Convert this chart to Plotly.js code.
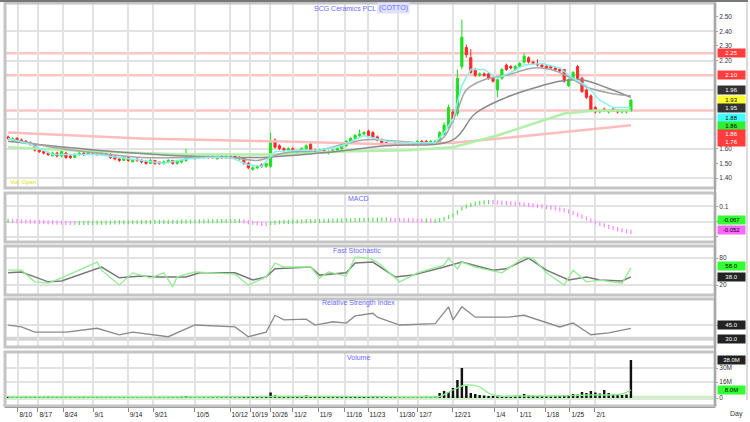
<!DOCTYPE html>
<html><head><meta charset="utf-8">
<script src="https://cdn.plot.ly/plotly-3.0.1.min.js"></script>
<style>html,body{margin:0;padding:0;background:#fff}#chart{width:750px;height:422px}</style>
</head><body><div id="chart"></div>
<script>
// ---------- price data (daily, index 0..140) ----------
const openP = [1.68,1.66,1.67,1.66,1.65,1.64,1.63,1.59,1.58,1.57,
1.55,1.57,1.55,1.57,1.55,1.54,1.56,1.57,1.56,1.58,
1.57,1.56,1.58,1.56,1.55,1.53,1.52,1.54,1.51,1.53,
1.52,1.51,1.50,1.52,1.51,1.50,1.51,1.52,1.50,1.51,
1.52,1.55,1.53,1.55,1.54,1.55,1.55,1.53,1.55,1.54,
1.55,1.55,1.53,1.54,1.50,1.46,1.47,1.49,1.48,1.48,
1.66,1.62,1.60,1.59,1.60,1.57,1.58,1.60,1.63,1.59,
1.58,1.59,1.57,1.58,1.59,1.60,1.62,1.65,1.67,1.69,
1.70,1.72,1.71,1.68,1.66,1.64,1.62,1.63,1.64,1.63,
1.64,1.63,1.64,1.65,1.65,1.64,1.64,1.65,1.70,1.75,
1.85,1.84,2.16,2.29,2.22,2.14,2.10,2.11,2.11,2.08,
2.00,2.08,2.17,2.16,2.14,2.16,2.19,2.22,2.19,2.18,
2.17,2.16,2.16,2.15,2.14,2.14,2.03,2.08,2.16,2.08,
2.00,1.96,1.88,1.85,1.87,1.85,1.87,1.86,1.85,1.85,1.86];
const closeP = [1.67,1.67,1.66,1.65,1.64,1.63,1.59,1.58,1.57,1.56,
1.57,1.55,1.58,1.54,1.54,1.56,1.57,1.56,1.58,1.57,
1.56,1.58,1.57,1.54,1.53,1.52,1.54,1.52,1.52,1.52,
1.51,1.50,1.52,1.50,1.50,1.51,1.52,1.50,1.52,1.52,
1.54,1.54,1.54,1.54,1.55,1.54,1.54,1.54,1.54,1.55,
1.54,1.54,1.54,1.50,1.47,1.47,1.48,1.48,1.50,1.64,
1.61,1.60,1.59,1.60,1.58,1.58,1.60,1.62,1.59,1.58,
1.59,1.58,1.58,1.59,1.60,1.63,1.65,1.67,1.69,1.70,
1.71,1.69,1.68,1.66,1.64,1.63,1.63,1.64,1.63,1.64,
1.63,1.64,1.65,1.64,1.64,1.65,1.65,1.71,1.76,1.88,
1.80,2.08,2.36,2.24,2.12,2.10,2.11,2.10,2.08,2.06,
2.07,2.14,2.14,2.15,2.16,2.18,2.23,2.19,2.18,2.17,
2.16,2.15,2.15,2.14,2.13,2.06,2.07,2.12,2.08,1.99,
1.95,1.86,1.85,1.86,1.86,1.86,1.86,1.85,1.86,1.86,1.93];
const highP = [1.69,1.68,1.68,1.67,1.66,1.65,1.63,1.60,1.59,1.58,
1.58,1.58,1.58,1.58,1.56,1.57,1.58,1.58,1.59,1.58,
1.58,1.59,1.58,1.57,1.55,1.54,1.55,1.54,1.53,1.53,
1.53,1.52,1.53,1.52,1.51,1.52,1.53,1.52,1.52,1.53,
1.60,1.56,1.55,1.55,1.56,1.56,1.55,1.55,1.56,1.56,
1.55,1.55,1.55,1.54,1.51,1.48,1.49,1.50,1.50,1.71,
1.67,1.63,1.61,1.61,1.61,1.59,1.61,1.63,1.64,1.60,
1.60,1.60,1.59,1.60,1.61,1.64,1.66,1.68,1.70,1.73,
1.72,1.73,1.72,1.69,1.67,1.65,1.64,1.65,1.65,1.65,
1.65,1.65,1.66,1.66,1.66,1.66,1.66,1.72,1.78,1.90,
1.87,2.14,2.48,2.31,2.28,2.15,2.12,2.12,2.12,2.09,
2.08,2.15,2.18,2.17,2.17,2.19,2.25,2.23,2.20,2.21,
2.18,2.17,2.17,2.16,2.15,2.14,2.08,2.13,2.17,2.09,
2.01,1.97,1.89,1.87,1.88,1.87,1.88,1.87,1.87,1.87,1.94];
const lowP = [1.66,1.65,1.65,1.64,1.63,1.62,1.58,1.57,1.56,1.55,
1.55,1.54,1.54,1.53,1.53,1.54,1.55,1.55,1.56,1.56,
1.55,1.56,1.56,1.53,1.52,1.51,1.52,1.51,1.51,1.51,
1.50,1.49,1.50,1.49,1.49,1.49,1.50,1.49,1.49,1.50,
1.51,1.53,1.53,1.53,1.53,1.53,1.53,1.53,1.53,1.53,
1.53,1.53,1.52,1.49,1.46,1.45,1.46,1.47,1.47,1.47,
1.60,1.59,1.58,1.58,1.57,1.56,1.57,1.59,1.58,1.57,
1.57,1.57,1.56,1.57,1.58,1.59,1.61,1.64,1.66,1.68,
1.69,1.68,1.67,1.65,1.63,1.62,1.62,1.62,1.62,1.62,
1.62,1.62,1.63,1.63,1.63,1.63,1.63,1.64,1.69,1.74,
1.78,1.82,2.14,2.22,2.11,2.09,2.09,2.09,2.07,2.05,
1.95,2.07,2.13,2.14,2.13,2.15,2.18,2.18,2.17,2.16,
2.15,2.14,2.14,2.13,2.12,2.05,2.02,2.07,2.07,1.98,
1.94,1.85,1.84,1.84,1.85,1.84,1.85,1.84,1.84,1.84,1.85];

// moving-average lines (day index, value)
const ma20X = [0,10,20,30,40,50,56,62,70,80,88,96,98,101,103,107,112,118,122,126,130,135,140];
const ma20  = [1.67,1.61,1.57,1.54,1.54,1.54,1.52,1.57,1.59,1.66,1.65,1.64,1.68,1.86,2.00,2.07,2.10,2.15,2.14,2.09,2.02,1.98,1.96];
const ma50X = [0,20,40,56,70,85,100,105,112,120,124,129,135,140];
const ma50  = [1.65,1.59,1.55,1.54,1.57,1.62,1.66,1.84,1.95,2.03,2.06,2.07,2.01,1.95];
const ma5X  = [0,5,10,15,20,25,30,35,40,45,50,54,57,60,65,70,75,80,85,90,96,98,100,102,104,107,110,113,116,120,124,127,130,133,136,140];
const ma5   = [1.67,1.63,1.56,1.56,1.56,1.54,1.52,1.50,1.53,1.54,1.54,1.49,1.48,1.58,1.59,1.59,1.62,1.69,1.65,1.64,1.64,1.71,1.80,2.03,2.14,2.14,2.08,2.12,2.17,2.18,2.15,2.08,2.03,1.93,1.88,1.88];
const ma100X = [0,20,40,60,75,90,100,110,118,125,132,140];
const ma100  = [1.61,1.58,1.56,1.56,1.58,1.59,1.61,1.69,1.77,1.84,1.86,1.86];
const ma200X = [0,30,60,85,100,114,140];
const ma200  = [1.71,1.67,1.65,1.63,1.64,1.68,1.76];
const levels = [2.25, 2.10, 1.86];

// MACD (daily)
const macd = [0.005,0.004,0.003,0.002,0.001,0,-0.001,-0.002,-0.003,-0.004,-0.005,-0.006,-0.007,-0.008,-0.009,-0.010,
-0.009,-0.009,-0.008,-0.008,-0.007,-0.007,-0.006,-0.006,-0.005,-0.005,-0.005,-0.004,-0.004,-0.004,-0.003,-0.003,-0.003,-0.002,-0.002,-0.002,-0.001,-0.001,-0.001,0,0,
0.001,0.001,0.002,0.002,0.002,0.003,0.003,0.003,0.004,0.004,0.004,0.005,
0.002,-0.003,-0.008,-0.012,-0.015,-0.017,
-0.010,-0.006,-0.004,-0.002,-0.001,0,0.001,0.002,0.003,0.003,0.004,0.004,0.005,0.005,0.006,0.006,0.007,0.008,0.009,0.010,0.011,0.012,0.012,0.013,0.013,0.014,0.014,
0.013,0.012,0.011,0.010,0.009,0.008,0.007,0.006,0.006,0.005,0.005,
0.010,0.018,0.030,0.040,0.060,0.085,0.100,0.110,0.118,0.123,0.126,0.128,
0.127,0.125,0.123,0.121,0.119,0.117,0.115,0.112,0.109,0.106,0.103,0.099,0.095,0.091,0.086,0.080,0.073,0.065,0.055,0.045,0.033,0.020,0.008,-0.004,-0.015,-0.025,-0.034,-0.042,-0.050,-0.057,-0.063,-0.067];

// Fast stochastic
const stochKX = [0,3,6,9,12,16,20,21,25,28,32,35,37,38,42,46,51,54,58,60,62,68,70,72,76,78,81,83,88,92,98,99,101,102,105,111,116,118,121,125,127,130,133,138,140];
const stochK  = [53,53,27,24,36,53,71,53,20,47,36,47,16,38,49,47,44,20,38,69,60,60,36,49,40,82,80,71,27,47,64,80,56,71,60,47,82,80,47,20,53,27,31,24,58];
const stochDX = [0,3,6,9,12,16,21,25,30,34,40,43,51,55,58,60,68,70,76,78,82,87,91,98,102,109,112,117,121,126,130,133,138,140];
const stochD  = [47,49,38,27,29,42,60,36,40,38,38,47,47,31,38,56,60,42,47,69,71,38,42,60,71,53,56,80,53,31,38,31,29,38];

// RSI
const rsiX = [0,3,6,13,20,25,28,36,42,51,54,58,60,62,67,69,73,76,78,82,83,88,96,99,100,102,105,112,116,124,127,131,135,140];
const rsi  = [50,47,39,39,45,35,39,32,50,47,32,39,65,58,59,50,55,53,64,68,62,50,52,78,58,78,62,62,65,47,53,35,38,45];

// Volume (millions of shares)
const volume = [1.2,0.8,1.0,0.9,1.1,0.8,1.3,1.0,0.9,1.1,
0.8,0.9,1.0,0.7,0.8,0.9,0.8,1.0,0.7,0.8,
0.9,0.7,0.8,0.9,0.8,0.7,0.9,0.8,0.7,0.8,
0.7,0.8,0.9,0.7,0.8,0.7,0.8,0.9,0.8,1.2,
2.0,1.0,0.8,0.7,0.8,0.7,0.8,0.7,0.8,0.7,
0.8,0.7,0.8,1.2,1.5,1.0,0.9,0.8,1.0,5.5,
2.5,1.8,1.5,1.2,1.5,1.8,1.3,2.5,1.8,1.2,
1.0,1.1,1.0,1.2,1.0,1.5,1.8,2.0,1.6,1.4,
1.5,1.3,1.6,1.4,1.2,1.1,1.0,1.0,0.9,1.0,
0.9,1.0,0.9,1.0,1.1,1.0,1.2,5.0,7.0,6.0,
10.0,18.0,30.0,12.0,5.0,4.0,3.0,2.5,2.0,2.0,
2.5,2.0,1.8,2.0,2.2,2.5,4.0,2.5,2.2,2.0,
1.8,2.0,1.8,2.0,2.2,2.5,3.0,4.0,3.5,6.0,
5.0,7.0,5.5,4.5,8.0,5.0,4.0,3.5,3.0,3.5,38.0];
const volMAX = [0,20,40,60,80,95,97,100,103,106,108,110,115,125,130,138,140];
const volMA  = [1,1,1,1.5,1.3,1,1.5,8,13,11,5,2,2,2.2,3,4,8];

// x-axis ticks (day index) and labels
const tickPos  = [2.2,6.7,12.4,19.1,27,32.6,42,49.9,54.4,58.9,64,69.7,75.7,80.9,87.6,92.1,100,109.4,114.6,120.7,126.3,131.9];
const tickText = ['8/10','8/17','8/24','9/1','9/14','9/21','10/5','10/12','10/19','10/26','11/2','11/9','11/16','11/23','11/30','12/7','12/21','1/4','1/11','1/18','1/25','2/1'];
const priceTicks = [2.5, 2.4, 2.3, 2.2, 1.6, 1.5, 1.4];

// ---------- build ----------
const idx = closeP.map((_, i) => i);
const UP = '#1fe01f', DOWN = '#ff2a2a';
const macdCol = macd.map((v, i) => (i === 0 || v >= macd[i-1]) ? '#5ee05e' : '#ff88ff');
const last = a => a[a.length-1];

const traces = [
  {type:'scatter', mode:'lines', x:ma200X, y:ma200, line:{color:'#ffbcbc', width:2.5}, yaxis:'y', hoverinfo:'skip'},
  {type:'scatter', mode:'lines', x:ma100X, y:ma100, line:{color:'#b0f0a8', width:2.5}, yaxis:'y', hoverinfo:'skip'},
  {type:'scatter', mode:'lines', x:ma50X, y:ma50, line:{color:'#8a8a8a', width:1.5, shape:'spline'}, yaxis:'y', hoverinfo:'skip'},
  {type:'scatter', mode:'lines', x:ma20X, y:ma20, line:{color:'#a6a6a6', width:1.5, shape:'spline'}, yaxis:'y', hoverinfo:'skip'},
  {type:'scatter', mode:'lines', x:ma5X, y:ma5, line:{color:'#88f0f0', width:1.5}, yaxis:'y', hoverinfo:'skip'},
  {type:'candlestick', x:idx, open:openP, high:highP, low:lowP, close:closeP, xaxis:'x', yaxis:'y',
   increasing:{line:{color:UP, width:1}, fillcolor:UP},
   decreasing:{line:{color:DOWN, width:1}, fillcolor:DOWN},
   whiskerwidth:0, hoverinfo:'skip'},
  {type:'scatter', mode:'markers', x:[0], y:[2.0], yaxis:'y6', marker:{opacity:0}, hoverinfo:'skip'},
  {type:'scatter', mode:'markers', x:idx, y:macd, yaxis:'y2',
   marker:{symbol:'line-ns', size:3, line:{width:1.2, color:macdCol}}, hoverinfo:'skip'},
  {type:'scatter', mode:'lines', x:stochDX, y:stochD, yaxis:'y3', line:{color:'#777', width:1.5}, hoverinfo:'skip'},
  {type:'scatter', mode:'lines', x:stochKX, y:stochK, yaxis:'y3', line:{color:'#90ee90', width:1.3}, hoverinfo:'skip'},
  {type:'scatter', mode:'lines', x:rsiX, y:rsi, yaxis:'y4', line:{color:'#8a8a8a', width:1.3}, hoverinfo:'skip'},
  {type:'bar', x:idx, y:volume, yaxis:'y5', marker:{color:'#111'}, width:0.55, hoverinfo:'skip'},
  {type:'scatter', mode:'lines', x:volMAX, y:volMA, yaxis:'y5', line:{color:'#88ee88', width:1.3, shape:'spline'}, hoverinfo:'skip'}
];
traces.forEach(t => { t.showlegend = false; if (!t.xaxis) t.xaxis = 'x'; });

const H = 403;
const py = p => (406 - p) / H;          // pixel row -> paper y
const px = p => (p - 5) / 710;          // pixel col -> paper x
const grid = '#e2e2e2';
const FF = 'Liberation Sans, Arial, sans-serif';
const tf = {size:6.5, color:'#333', family:FF};
const yBase = {side:'right', anchor:'x', showgrid:true, gridcolor:grid, gridwidth:2, zeroline:false,
  ticks:'outside', ticklen:2, tickcolor:'#999', tickfont:tf, fixedrange:true};

const layout = {
  width:750, height:422, margin:{l:5, r:35, t:3, b:16},
  paper_bgcolor:'#fff', plot_bgcolor:'#fff', showlegend:false,
  font:{family:FF},
  xaxis:{domain:[0,1], range:[-0.7,158.9], anchor:'y5', tickmode:'array', tickvals:tickPos, ticktext:tickText,
    tickangle:0, showgrid:true, gridcolor:grid, gridwidth:2, zeroline:false, ticks:'outside', ticklen:4, tickcolor:'#888',
    tickfont:{size:6.5, color:'#222', family:FF}, ticklabelposition:'outside right', ticklabelstandoff:1,
    showline:true, linecolor:'#777', linewidth:2, rangeslider:{visible:false}, fixedrange:true},
  yaxis: Object.assign({}, yBase, {domain:[py(188),1], range:[1.332,2.593], tick0:0, dtick:0.2, showticklabels:false, ticks:''}),
  yaxis6: Object.assign({}, yBase, {overlaying:'y', range:[1.332,2.593], tickvals:priceTicks, tickformat:'.2f', showgrid:false}),
  yaxis2: Object.assign({}, yBase, {domain:[py(242),py(193)], range:[-0.133,0.187], tickvals:[-0.1,0,0.1], ticktext:['','','0.1']}),
  yaxis3: Object.assign({}, yBase, {domain:[py(295),py(246)], range:[-2.2,106.7], tickvals:[20,80]}),
  yaxis4: Object.assign({}, yBase, {domain:[py(347),py(299)], range:[16.2,90], tickvals:[50], ticktext:['']}),
  yaxis5: Object.assign({}, yBase, {domain:[0,py(352)], range:[-8,46], tickvals:[0,16,30], ticktext:['0','16M','30M']}),
  shapes:[], annotations:[]
};

// support / resistance levels
levels.forEach(v => layout.shapes.push({type:'line', xref:'paper', yref:'y', x0:0, x1:1, y0:v, y1:v,
  line:{color:'rgba(255,150,150,0.55)', width:2.5}, layer:'between'}));
// bands
layout.shapes.push({type:'rect', xref:'paper', yref:'y4', x0:0, x1:1, y0:26, y1:32, fillcolor:'#d4d4d4', line:{width:0}, layer:'between'});
layout.shapes.push({type:'rect', xref:'paper', yref:'y5', x0:0, x1:1, y0:-2, y1:2.5, fillcolor:'#c8f8c0', line:{width:0}, layer:'between'});
// panel frames
['y','y2','y3','y4','y5'].forEach(a => layout.shapes.push({type:'rect', xref:'paper', yref:a+' domain',
  x0:0, x1:1, y0:0, y1:1, line:{color:'#c4c4c4', width:3}, layer:'above'}));
layout.shapes.push({type:'line', xref:'paper', yref:'paper', x0:1, x1:1, y0:0, y1:1, line:{color:'#a8a8a8', width:2}});
layout.shapes.push({type:'line', xref:'paper', yref:'paper', x0:px(747), x1:px(747), y0:py(400), y1:1, line:{color:'#d0d0d0', width:1.5}});
layout.shapes.push({type:'line', xref:'paper', yref:'paper', x0:px(0), x1:px(748), y0:py(1), y1:py(1), line:{color:'#777', width:2}});

// titles
const blue = '#6a6aff';
const ann = (x, y, text, extra) => layout.annotations.push(Object.assign({xref:'paper', yref:'paper', x:x, y:y, text:text,
  showarrow:false, xanchor:'center', yanchor:'middle', font:{size:7, color:blue, family:FF}}, extra||{}));
ann(px(345), py(8), 'SCG Ceramics PCL');
ann(px(393), py(8), '(COTTO)', {bgcolor:'#dfe2ff', borderpad:1});
ann(px(358), py(198), 'MACD');
ann(px(357), py(250), 'Fast Stochastic');
ann(px(358), py(303), 'Relative Strength Index');
ann(px(358), py(357), 'Volume');
ann(px(8), py(182), 'Vol: Open', {xanchor:'left', font:{size:6, color:'#e0e000', family:FF}});
ann(px(736), py(414), 'Day', {font:{size:7, color:'#333', family:FF}});

// right-side value boxes
const box = (yref, y, text, bg, fc) => layout.annotations.push({xref:'paper', yref:yref, x:px(731), y:y, text:text,
  showarrow:false, xanchor:'center', yanchor:'middle', width:26, height:7, bgcolor:bg, borderpad:0.5,
  font:{size:6, color:fc, family:FF}});
box('y', levels[0], levels[0].toFixed(2), '#ff3d3d', '#fff');
box('y', levels[1], levels[1].toFixed(2), '#ff3d3d', '#fff');
box('y', 2.00, last(ma20).toFixed(2), '#333', '#fff');
box('y', 1.932, last(closeP).toFixed(2), '#ffff30', '#000');
box('y', 1.877, last(ma50).toFixed(2), '#333', '#fff');
box('y', 1.81, last(ma5).toFixed(2), '#40ffff', '#000');
box('y', 1.755, last(ma100).toFixed(2), '#30ee30', '#000');
box('y', 1.699, levels[2].toFixed(2), '#ff3d3d', '#fff');
box('y', 1.645, last(ma200).toFixed(2), '#ff3d3d', '#fff');
box('y2', 0.013, last(macd).toFixed(3), '#33ff33', '#000');
box('y2', -0.053, '-0.052', '#ff66ff', '#000');
box('y3', 62, last(stochK).toFixed(1), '#33ff33', '#000');
box('y3', 38, last(stochD).toFixed(1), '#222', '#fff');
box('y4', 50, last(rsi).toFixed(1), '#222', '#fff');
box('y4', 28, '30.0', '#222', '#fff');
box('y5', 38, last(volume).toFixed(1)+'M', '#222', '#fff');
box('y5', 8, last(volMA).toFixed(1)+'M', '#33ff33', '#000');

Plotly.newPlot('chart', traces, layout, {displayModeBar:false, staticPlot:true});
</script>
</body></html>
